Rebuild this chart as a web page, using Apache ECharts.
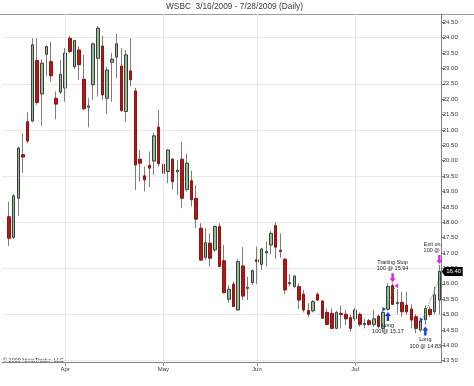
<!DOCTYPE html>
<html><head><meta charset="utf-8">
<script src="https://cdn.jsdelivr.net/npm/echarts@6/dist/echarts.min.js"></script>
<style>html,body{margin:0;padding:0;background:#fff}#c{width:474px;height:386px}</style>
</head><body><div id="c"></div>
<script>
// ---- data ----
const dates = ['3/16','3/17','3/18','3/19','3/20','3/23','3/24','3/25','3/26','3/27','3/30','3/31',
 '4/1','4/2','4/3','4/6','4/7','4/8','4/9','4/13','4/14','4/15','4/16','4/17','4/20','4/21','4/22','4/23','4/24','4/27','4/28','4/29','4/30',
 '5/1','5/4','5/5','5/6','5/7','5/8','5/11','5/12','5/13','5/14','5/15','5/18','5/19','5/20','5/21','5/22','5/26','5/27','5/28','5/29',
 '6/1','6/2','6/3','6/4','6/5','6/8','6/9','6/10','6/11','6/12','6/15','6/16','6/17','6/18','6/19','6/22','6/23','6/24','6/25','6/26','6/29',
 '7/1','7/2','7/6','7/7','7/8','7/9','7/10','7/13','7/14','7/15','7/16','7/17','7/20','7/21','7/22','7/23','7/24','7/27','7/28'];
const opens = [18.18,17.51,18.78,20.20,21.27,21.29,23.26,22.17,23.46,23.22,22.03,22.23,
 22.36,23.98,23.06,23.60,22.65,21.74,22.47,23.33,23.73,22.03,23.20,23.37,23.08,21.60,22.92,22.27,20.05,19.51,19.85,19.99,21.09,
 19.89,19.65,20.05,19.64,20.05,19.07,19.35,18.78,17.81,16.86,17.32,17.10,17.86,16.75,15.50,15.99,15.15,16.58,15.85,16.04,
 16.78,16.63,17.00,17.26,17.89,17.09,16.80,16.00,15.91,15.91,15.66,15.13,15.12,15.66,15.44,15.07,15.04,14.55,15.04,15.01,14.90,
 14.86,15.01,14.67,14.80,14.68,14.95,14.55,15.17,15.94,15.36,15.40,15.31,15.18,14.93,14.50,14.83,15.17,15.09,15.47];
const highs = [18.67,18.92,20.46,20.89,21.57,23.98,23.98,23.30,23.75,23.87,22.25,23.28,
 23.66,24.06,23.93,23.71,23.44,22.03,23.84,24.38,24.06,23.06,23.50,24.12,23.66,23.60,23.98,22.37,20.35,19.81,20.30,20.91,21.65,
 20.35,20.37,20.08,20.03,20.62,20.24,19.68,19.21,17.97,17.81,17.64,17.91,17.97,17.26,15.96,16.07,16.80,17.19,16.23,16.47,
 17.21,17.17,17.37,17.72,18.00,17.64,16.83,16.31,16.29,16.02,15.80,15.37,15.47,15.72,15.47,15.20,15.20,15.12,15.29,15.15,14.99,
 15.22,15.07,14.86,14.86,15.15,14.99,15.12,16.02,16.02,15.83,15.74,15.74,15.33,15.01,14.88,15.31,15.26,15.91,16.61];
const lows = [17.23,17.45,18.21,19.61,20.57,21.25,21.82,21.13,22.74,22.57,21.35,22.17,
 21.92,23.50,22.98,22.63,21.65,21.09,21.98,22.09,21.98,21.51,21.92,22.68,21.60,21.27,22.41,19.05,19.32,19.00,19.14,19.54,19.81,
 19.11,19.27,19.07,18.89,18.46,19.00,18.51,17.81,16.75,16.77,16.56,17.04,16.54,15.69,15.39,15.24,15.13,15.47,15.47,15.96,
 16.00,16.45,16.56,16.96,16.81,16.85,15.66,15.91,15.85,15.18,15.07,14.93,15.07,15.44,14.86,14.66,14.53,14.53,14.55,14.66,14.44,
 14.79,14.61,14.55,14.64,14.61,14.55,14.42,15.13,15.31,15.04,14.93,15.00,14.55,14.39,14.44,14.66,14.93,15.01,15.00];
const closes = [17.48,18.86,20.41,20.12,20.64,23.77,21.89,23.17,23.71,22.76,21.84,22.81,
 23.50,23.55,23.91,23.12,21.69,21.78,23.80,24.31,22.14,22.95,23.30,23.80,21.63,23.44,22.63,19.86,19.92,19.38,19.76,20.81,19.90,
 19.59,20.35,19.32,19.69,18.78,19.92,18.73,18.10,16.77,17.34,16.83,17.86,16.56,15.71,15.82,15.26,16.72,15.60,15.89,16.43,
 16.72,17.13,17.05,17.64,17.19,17.05,15.80,16.04,16.25,15.47,15.15,15.01,15.42,15.47,14.88,14.68,14.55,15.07,15.00,14.86,14.55,
 15.15,14.68,14.71,14.68,14.86,14.61,15.07,15.91,15.33,15.39,15.09,15.09,14.82,14.55,14.79,15.20,15.00,15.64,16.40];
// trades
const entryBars = [81, 89];
const entryPrices = [15.17, 14.83];
const entryNames = ['Long', 'Long'];
const exitBars = [82, 92];
const exitPrices = [15.94, 16.40];
const exitNames = ['Trailing Stop', 'Exit on close'];
const tradeQty = 100;
// axis ticks
const yTickMin = 13.5, yTickMax = 24.5, yTickStep = 0.5;
const yGridMin = 13.5, yGridMax = 24.0, yGridStep = 1.5;
const monthNames = ['Jan','Feb','Mar','Apr','May','Jun','Jul','Aug','Sep','Oct','Nov','Dec'];
const titleText = 'WSBC  3/16/2009 - 7/28/2009 (Daily)';
const copyrightText = '\u00a9 2009 NinjaTrader, LLC';

// ---- layout ----
const FONT = '"Liberation Sans", Arial, sans-serif';
const W = 474, H = 386;
const GL = 2, GR = 32.3, GT = 14, GB = 23.3;
const Y_MIN = 13.435, Y_MAX = 24.77;
const ppu = (H - GT - GB) / (Y_MAX - Y_MIN);
const labelTop = GT + (Y_MAX - yTickMax) * ppu;
const labelBottom = GB + (yTickMin - Y_MIN) * ppu;
const splitTop = GT + (Y_MAX - yGridMax) * ppu;
const splitBottom = GB + (yGridMin - Y_MIN) * ppu;

const OFF = 1; // one empty leading category
const cats = [''].concat(dates);
const monthOf = s => s ? parseInt(s.split('/')[0], 10) : 0;
const monthStarts = [];
for (let i = 1; i < dates.length; i++) if (monthOf(dates[i]) !== monthOf(dates[i - 1])) monthStarts.push(i + OFF);
const isMonthStart = idx => monthStarts.indexOf(idx) >= 0;

const EMPTY = ['-', '-', '-', '-'];
const candleData = [EMPTY].concat(dates.map((d, i) => [opens[i], closes[i], lows[i], highs[i]]));
const bodyData = [EMPTY].concat(dates.map((d, i) => [opens[i], closes[i], Math.min(opens[i], closes[i]), Math.max(opens[i], closes[i])]));

const BLUE = '#1f3ccf', MAGENTA = '#e51ee5', TXT = '#222';

function arrowPts(x, yTip, dir) { // dir 1: points down, -1: points up
  const L = 9, hl = 4, hw = 3, sw = 1.2, s = dir;
  return [[x, yTip], [x - hw, yTip - s * hl], [x - sw, yTip - s * hl], [x - sw, yTip - s * L],
          [x + sw, yTip - s * L], [x + sw, yTip - s * hl], [x + hw, yTip - s * hl]];
}

const chart = echarts.init(document.getElementById('c'), null, {renderer: 'canvas'});
const hiddenX = gi => ({type: 'category', gridIndex: gi, data: cats, boundaryGap: true, show: false});

chart.setOption({
  animation: false,
  backgroundColor: '#fff',
  grid: [
    {left: GL, right: GR, top: GT, bottom: GB},
    {left: GL, right: GR, top: labelTop, bottom: labelBottom},
    {left: GL, right: GR, top: splitTop, bottom: splitBottom}
  ],
  xAxis: [
    {type: 'category', gridIndex: 0, data: cats, boundaryGap: true,
     axisLine: {show: true, lineStyle: {color: '#808080', width: 1}},
     axisTick: {show: true, alignWithLabel: true, length: 3, interval: (i) => isMonthStart(i), lineStyle: {color: '#808080'}},
     axisLabel: {show: true, interval: (i) => isMonthStart(i), formatter: v => v ? monthNames[monthOf(v) - 1] : '',
                 fontSize: 6, color: '#333', margin: 4, fontFamily: FONT},
     splitLine: {show: false}},
    hiddenX(1), hiddenX(2)
  ],
  yAxis: [
    {type: 'value', gridIndex: 0, position: 'right', min: Y_MIN, max: Y_MAX, scale: true,
     axisLine: {show: true, lineStyle: {color: '#808080', width: 1}},
     axisTick: {show: false}, axisLabel: {show: false}, splitLine: {show: false}},
    {type: 'value', gridIndex: 1, position: 'right', min: yTickMin, max: yTickMax, interval: yTickStep,
     axisLine: {show: false},
     axisTick: {show: true, length: 3, lineStyle: {color: '#808080'}},
     axisLabel: {show: true, fontSize: 6, color: '#333', margin: 1, fontFamily: FONT, formatter: v => v.toFixed(2)},
     splitLine: {show: false}},
    {type: 'value', gridIndex: 2, position: 'right', min: yGridMin, max: yGridMax, interval: yGridStep,
     axisLine: {show: false}, axisTick: {show: false}, axisLabel: {show: false},
     splitLine: {show: true, lineStyle: {color: '#e9e9e9', width: 1}}}
  ],
  graphic: [
    {type: 'line', shape: {x1: 0, y1: GT + 0.5, x2: W, y2: GT + 0.5}, style: {stroke: '#9a9a9a', lineWidth: 1}, silent: true},
    {type: 'text', x: 234.5, y: 7, style: {text: titleText, align: 'center', verticalAlign: 'middle', fontSize: 8.3, fontFamily: FONT, fill: '#3a3a3a'}, silent: true},
    {type: 'text', x: 3, y: 360, style: {text: copyrightText, align: 'left', verticalAlign: 'middle', fontSize: 5.5, fontFamily: FONT, fill: '#333'}, silent: true}
  ],
  series: [
    {type: 'line', xAxisIndex: 0, yAxisIndex: 0, data: [], z: 0, silent: true,
     markLine: {silent: true, symbol: 'none', label: {show: false}, animation: false,
                lineStyle: {color: '#e9e9e9', type: 'solid', width: 1},
                data: monthStarts.map(i => ({xAxis: i}))}},
    {type: 'candlestick', name: 'wick', xAxisIndex: 0, yAxisIndex: 0, data: candleData, barWidth: 1, z: 2, silent: true,
     itemStyle: {color: 'rgba(0,0,0,0)', color0: 'rgba(0,0,0,0)', borderColor: '#7d7d7d', borderColor0: '#7d7d7d', borderWidth: 1}},
    {type: 'candlestick', name: 'body', xAxisIndex: 0, yAxisIndex: 0, data: bodyData, barWidth: 3, z: 3, silent: true,
     itemStyle: {color: '#8fbf8f', color0: '#ad1a1a', borderColor: '#3c3c3c', borderColor0: '#8e1414', borderWidth: 1}},
    // trade connection lines
    {type: 'custom', xAxisIndex: 0, yAxisIndex: 0, clip: true, z: 5, silent: true,
     data: entryBars.map((b, i) => [b + OFF, entryPrices[i], exitBars[i] + OFF, exitPrices[i]]),
     renderItem: (params, api) => {
       const a = api.coord([api.value(0), api.value(1)]);
       const b = api.coord([api.value(2), api.value(3)]);
       return {type: 'line', shape: {x1: a[0] - 3, y1: a[1], x2: b[0] + 3, y2: b[1]},
               style: {stroke: '#2c962c', lineWidth: 1, lineDash: [1, 1.5]}};
     }},
    // entries
    {type: 'custom', xAxisIndex: 0, yAxisIndex: 0, clip: true, z: 6, silent: true,
     data: entryBars.map((b, i) => [b + OFF, entryPrices[i], lows[b], i]),
     renderItem: (params, api) => {
       const i = api.value(3);
       const p = api.coord([api.value(0), api.value(1)]);
       const pl = api.coord([api.value(0), api.value(2)]);
       const x = pl[0], tip = pl[1] + 1.5;
       return {type: 'group', children: [
         {type: 'polygon', shape: {points: arrowPts(x, tip, -1)}, style: {fill: BLUE}},
         {type: 'polygon', shape: {points: [[p[0] - 5.5, p[1] - 2.5], [p[0] - 5.5, p[1] + 2.5], [p[0] - 2.3, p[1]]]}, style: {fill: BLUE}},
         {type: 'text', style: {text: entryNames[i] + '\n' + tradeQty + ' @ ' + entryPrices[i].toFixed(2), x: x, y: tip + 10,
           align: 'center', verticalAlign: 'top', fontSize: 5.5, lineHeight: 6.5, fontFamily: FONT, fill: TXT}}
       ]};
     }},
    // exits
    {type: 'custom', xAxisIndex: 0, yAxisIndex: 0, clip: true, z: 6, silent: true,
     data: exitBars.map((b, i) => [b + OFF, exitPrices[i], highs[b], i]),
     renderItem: (params, api) => {
       const i = api.value(3);
       const p = api.coord([api.value(0), api.value(1)]);
       const ph = api.coord([api.value(0), api.value(2)]);
       const x = ph[0], tip = ph[1] - 1;
       return {type: 'group', children: [
         {type: 'polygon', shape: {points: arrowPts(x, tip, 1)}, style: {fill: MAGENTA}},
         {type: 'polygon', shape: {points: [[p[0] + 5.5, p[1] - 2.5], [p[0] + 5.5, p[1] + 2.5], [p[0] + 2.3, p[1]]]}, style: {fill: MAGENTA}},
         {type: 'text', style: {text: exitNames[i] + '\n' + tradeQty + ' @ ' + exitPrices[i].toFixed(2), x: x, y: tip - 10,
           align: 'center', verticalAlign: 'bottom', fontSize: 5.5, lineHeight: 6.5, fontFamily: FONT, fill: TXT}}
       ]};
     }},
    // last price tag
    {type: 'custom', xAxisIndex: 0, yAxisIndex: 0, clip: false, z: 20, silent: true,
     data: [[closes.length - 1 + OFF, closes[closes.length - 1]]],
     renderItem: (params, api) => {
       const p = api.coord([api.value(0), api.value(1)]);
       const x0 = params.coordSys.x + params.coordSys.width, y = p[1];
       return {type: 'group', children: [
         {type: 'polygon', shape: {points: [[x0, y], [x0 + 3, y - 4.5], [x0 + 21, y - 4.5], [x0 + 21, y + 4.5], [x0 + 3, y + 4.5]]}, style: {fill: '#000'}},
         {type: 'text', style: {text: api.value(1).toFixed(2), x: x0 + 12, y: y, align: 'center', verticalAlign: 'middle',
           fontSize: 6, fontFamily: FONT, fill: '#fff'}}
       ]};
     }}
  ]
});
</script>
</body></html>
